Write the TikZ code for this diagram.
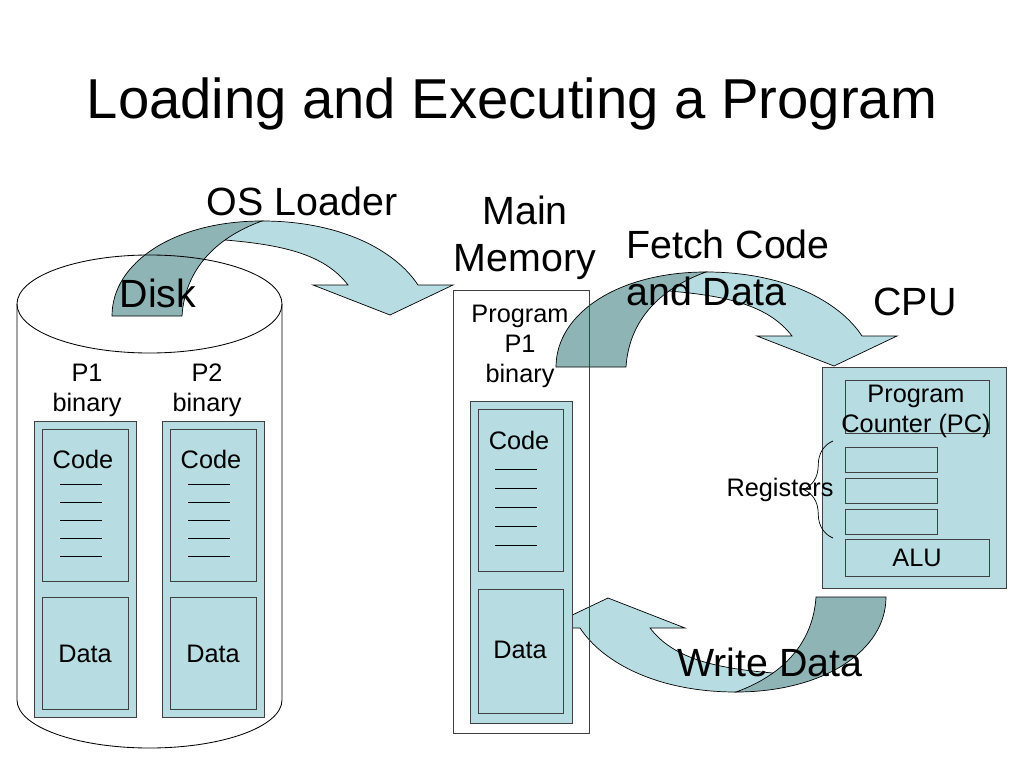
\documentclass[tikz,border=0pt]{standalone}
\usepackage{fontspec}
\setmainfont{Liberation Sans}
\usetikzlibrary{decorations.pathreplacing}

\definecolor{boxfill}{RGB}{183,221,226}
\definecolor{arrowshade}{RGB}{143,180,182}
\definecolor{boxline}{RGB}{64,64,64}

\tikzset{
  pics/bentarrow/.style={code={
    \filldraw[arrowfront] (262,221) .. controls (340,221) and (395,250) .. (418,285)
      -- (453,285) -- (390,315) -- (313,285) -- (348,285)
      .. controls (325,255) and (285,245) .. (225,240) -- (240,225) -- cycle;
    \filldraw[arrowback] (112,316) .. controls (112,262) and (175,221) .. (262,221)
      .. controls (215,238) and (185,270) .. (182,316) -- cycle;
  }}
}

\begin{document}
\begin{tikzpicture}[x=0.025cm, y=-0.025cm,
    arrowfront/.style={fill=boxfill, draw=black, line width=0.5pt},
    arrowback/.style={fill=arrowshade, draw=black, line width=0.5pt},
    bluebox/.style={fill=boxfill, draw=boxline, line width=0.6pt},
    plainbox/.style={draw=boxline, line width=0.6pt},
    codeline/.style={draw=black, line width=0.6pt},
    titletext/.style={font=\fontsize{40}{48}\selectfont, inner sep=0pt},
    bigtext/.style={font=\fontsize{28}{33}\selectfont, inner sep=0pt, align=center},
    smalltext/.style={font=\fontsize{18}{21.3}\selectfont, inner sep=0pt, align=center}]
  \useasboundingbox (0,0) rectangle (1024,768);

  % block arrows: loader, fetch, write back
  \pic at (0,0) {bentarrow};
  \pic at (444,51) {bentarrow};
  \pic[rotate=180] at (998,913) {bentarrow};

  % disk
  \draw[line width=0.6pt] (17,304) -- (17,700)
    arc[start angle=180, end angle=0, x radius=132.5, y radius=48] -- (282,304);
  \draw[line width=0.6pt] (149.5,304) ellipse[x radius=132.5, y radius=49];
  \foreach \x/\p/\lx in {34/1/87, 162/2/207} {
    \draw[bluebox] (\x,421) rectangle ++(102,296);
    \draw[bluebox] (\x+8,429) rectangle ++(86,152);
    \draw[bluebox] (\x+8,597) rectangle ++(86,112);
    \node[smalltext] (bin\p) at (\lx,390) {P\p\\binary};
    \node[smalltext] (code\p) at (\x+49,459) {Code};
    \node[smalltext] (data\p) at (\x+51,654) {Data};
    \foreach \y in {484,502,...,556}
      \draw[codeline] (\x+26,\y) -- ++(42,0);
  }

  % main memory
  \draw[plainbox] (453,290) rectangle (589,733);
  \draw[bluebox] (470,401) rectangle (572,723);
  \draw[bluebox] (478,409) rectangle (563,571);
  \draw[bluebox] (478,589) rectangle (563,713);
  \foreach \y in {469,488,...,545}
    \draw[codeline] (495,\y) -- (537,\y);
  \node[smalltext] (prog) at (520,346) {Program\\P1\\binary};
  \node[smalltext] (memcode) at (519,440) {Code};
  \node[smalltext] (memdata) at (520,650) {Data};

  % cpu
  \draw[bluebox] (822,367) rectangle (1006,588);
  \draw[plainbox] (845,380) rectangle (989,433);
  \foreach \y in {447,478,509}
    \draw[plainbox] (845,\y) rectangle ++(92,25);
  \draw[plainbox] (845,539) rectangle (989,576);
  \draw[decorate, decoration={brace, amplitude=21pt}, line width=0.5pt] (833,538) -- (833,441);
  \node[smalltext] (pc) at (916,411) {Program\\Counter (PC)};
  \node[smalltext] (regs) at (780,490) {Registers};
  \node[smalltext] (alu) at (917,558) {ALU};

  % labels
  \node[titletext] (title) at (512,104) {Loading and Executing a Program};
  \node[bigtext] (loader) at (302,201) {OS Loader};
  \node[bigtext] (disk) at (158,293) {Disk};
  \node[bigtext] (memory) at (525,238) {Main\\Memory};
  \node[bigtext, align=left, anchor=west] (fetch) at (626,268) {Fetch Code\\and Data};
  \node[bigtext] (cpu) at (915,302) {CPU};
  \node[bigtext] (write) at (770,662) {Write Data};
\end{tikzpicture}
\end{document}
